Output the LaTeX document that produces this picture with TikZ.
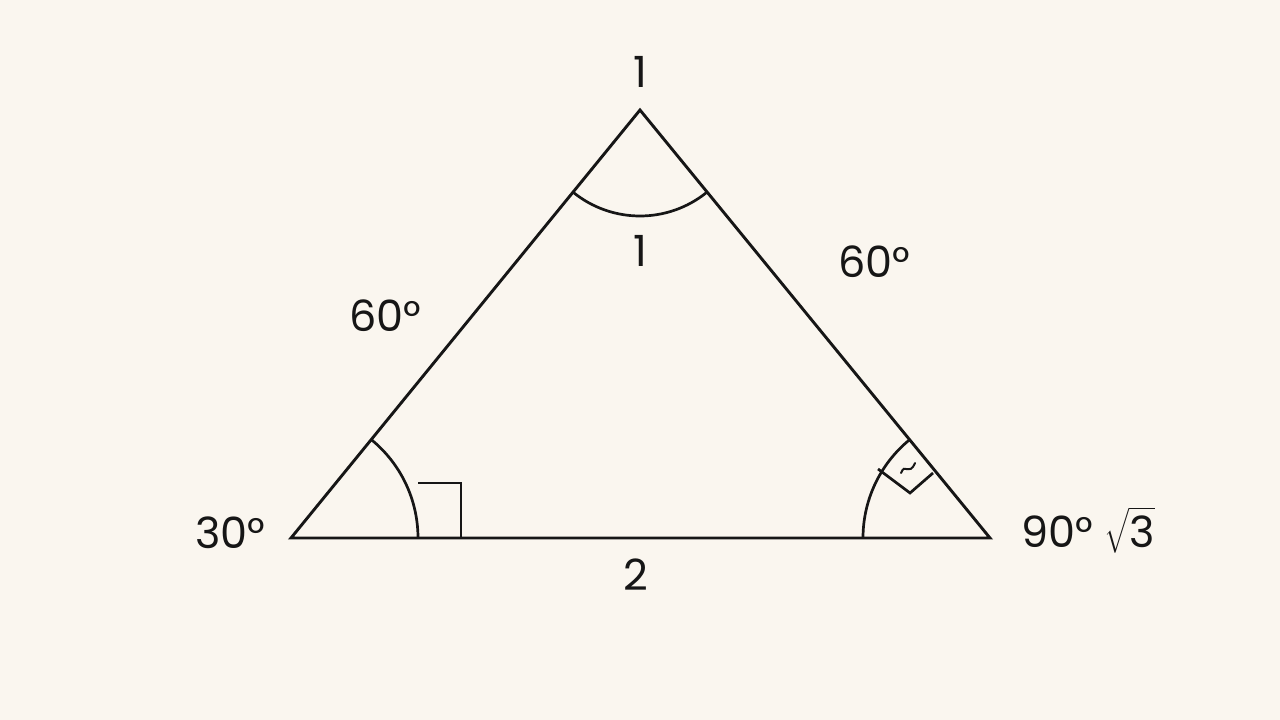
\documentclass[tikz,border=0pt]{standalone}
\usepackage{fontspec}
\usepackage{amsmath}
\setmainfont{Poppins}
\usepackage{tikz}
\definecolor{paper}{RGB}{250,246,239}
\definecolor{ink}{RGB}{22,22,22}
\tikzset{
  edge/.style={draw=ink, line width=2.9pt, line join=miter},
  anglemark/.style={draw=ink, line width=2.7pt},
  lbl/.style={text=ink, inner sep=0pt, font=\fontsize{43}{48}\selectfont}
}
\begin{document}
\begin{tikzpicture}[x=1pt, y=-1pt]
\fill[paper] (0, 0) rectangle (1280, 720);
\useasboundingbox (0, 0) rectangle (1280, 720);
\coordinate (A) at (291, 538);
\coordinate (B) at (640, 110);
\coordinate (C) at (990, 538);
\draw[edge] (A) -- (B) -- (C) -- cycle;
% angle arcs
\draw[anglemark] (A) ++(127, 0) arc[start angle=0, end angle=-50.8, radius=127];
\draw[anglemark] (B) ++(129.2:106) arc[start angle=129.2, end angle=50.8, radius=106];
\draw[anglemark] (C) ++(-127, 0) arc[start angle=180, end angle=230.7, radius=127];
% right angle boxes
\draw[anglemark] (418, 483) -- (461, 483) -- (461, 538);
\draw[anglemark] (878, 469) -- (910, 493) -- (933, 473);
\draw[draw=ink, line width=2pt, line cap=round] (901, 473) .. controls (905, 462) and (909, 477) .. (915, 463);
% labels
\node[lbl] (topone) at (640, 72) {1};
\node[lbl] (innerone) at (640, 251) {1};
\node[lbl] (leftsixty) at (385, 316) {60°};
\node[lbl] (rightsixty) at (874, 262) {60°};
\node[lbl] (thirty) at (230, 533) {30°};
\node[lbl] (two) at (636, 575) {2};
\node[lbl] (ninety) at (1088, 530) {90° $\sqrt{\text{3}}$};
\end{tikzpicture}
\end{document}
